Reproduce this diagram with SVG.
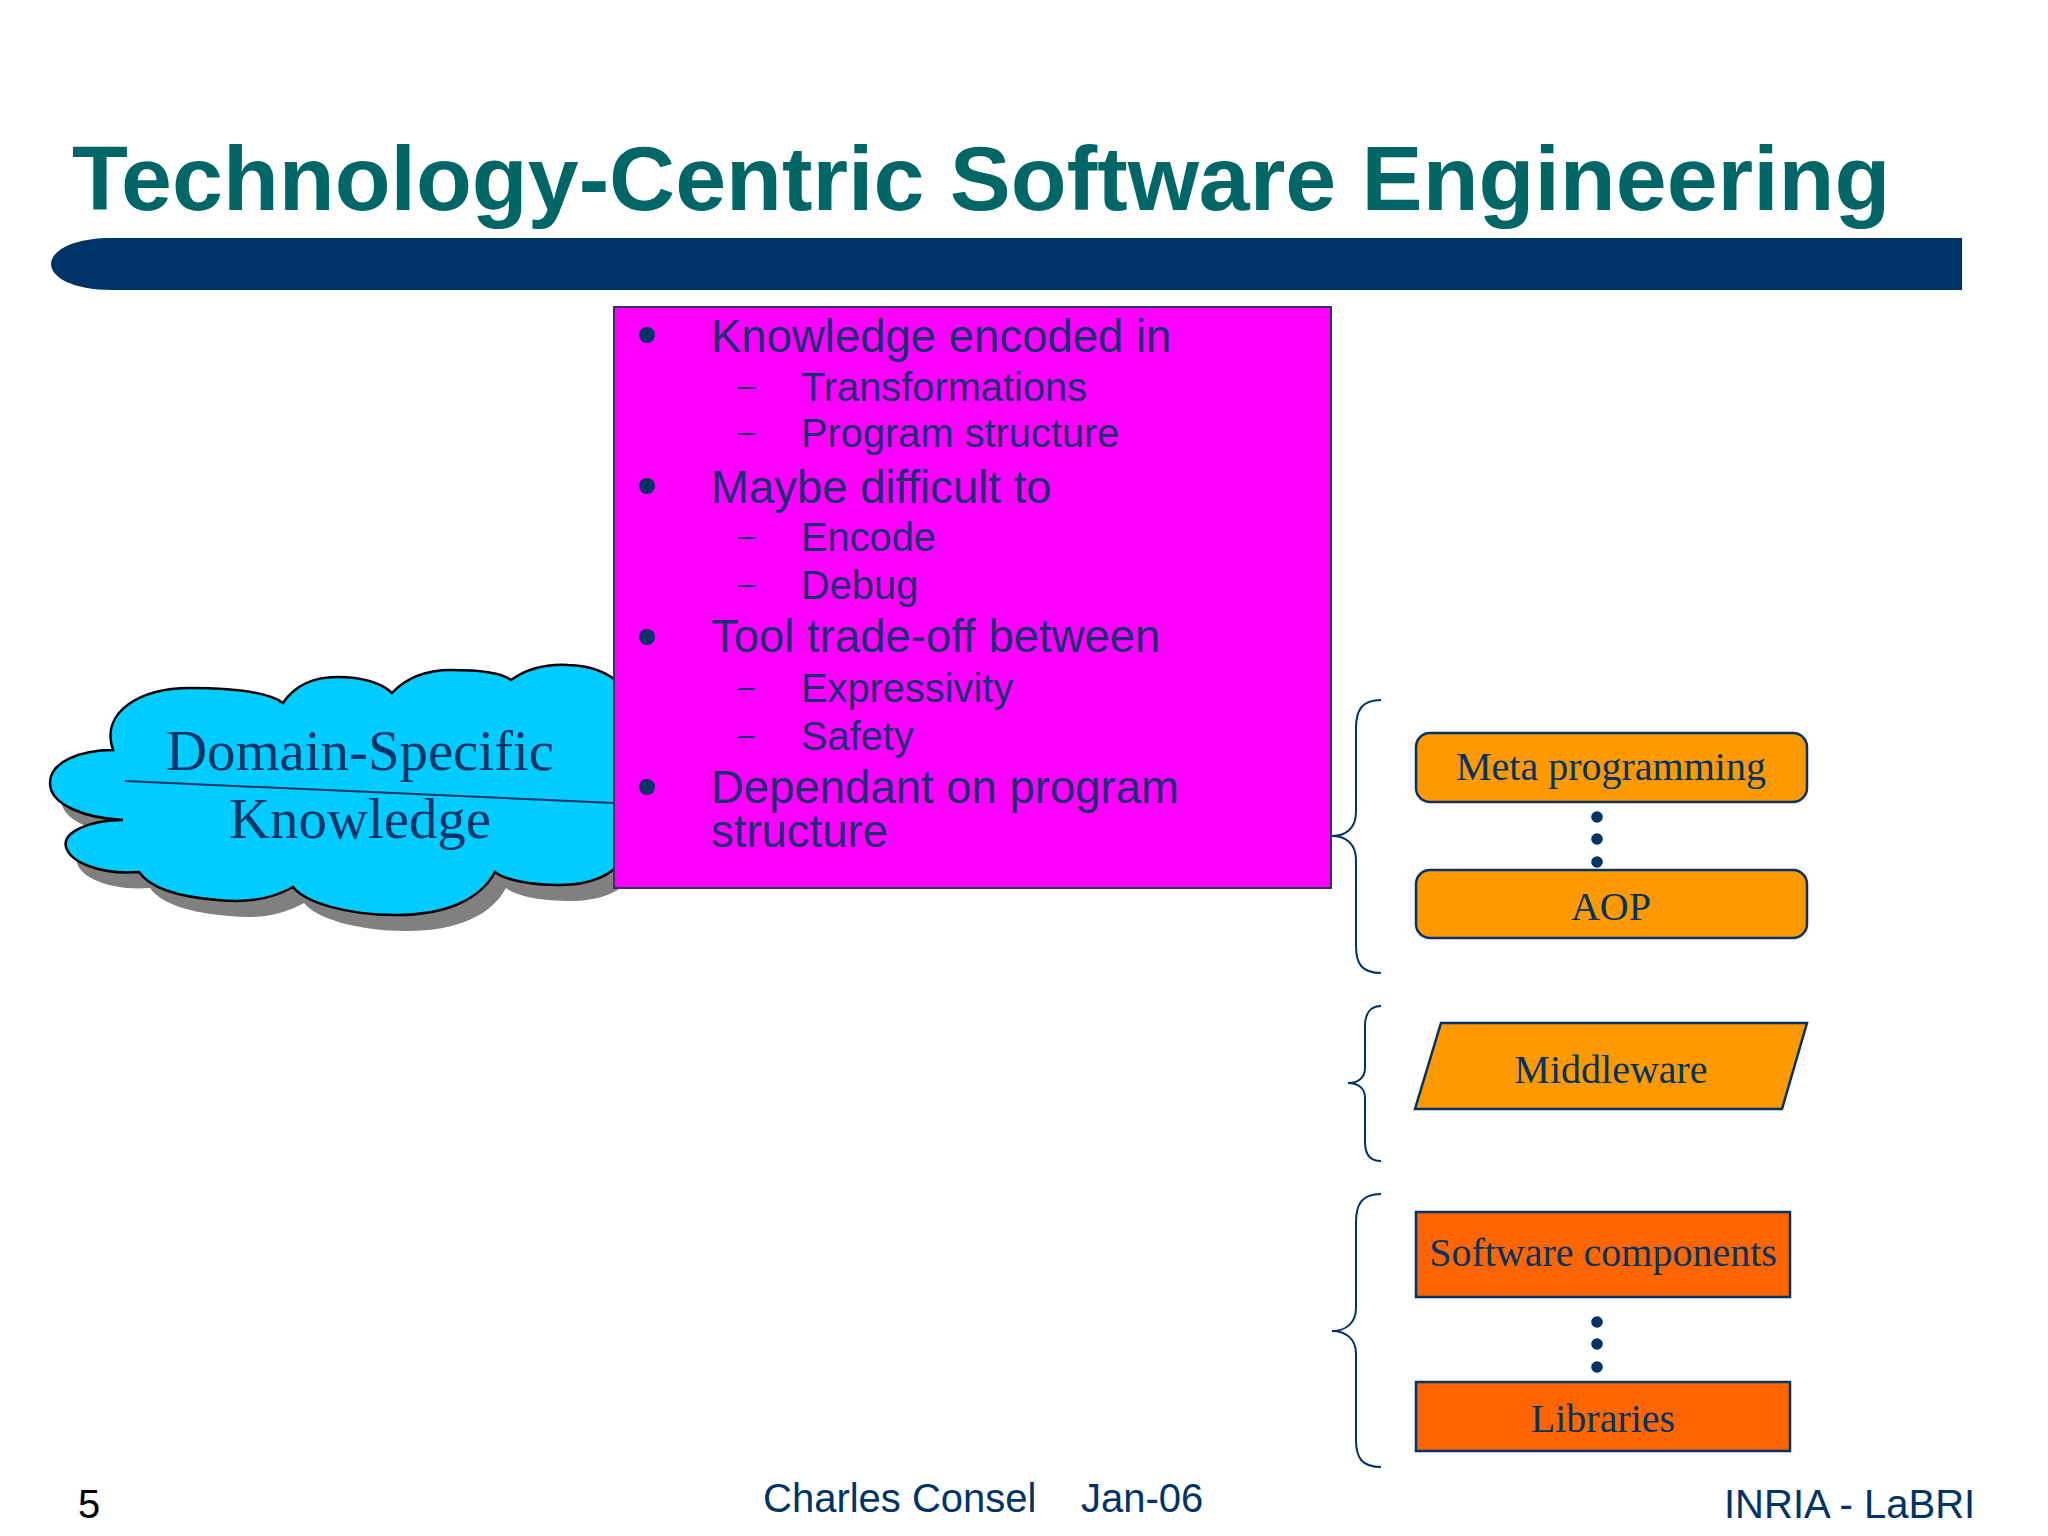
<svg xmlns="http://www.w3.org/2000/svg" width="2048" height="1536" viewBox="0 0 2048 1536">
<style>
.title{font-family:"Liberation Sans",Arial,sans-serif;font-weight:bold;font-size:91.5px;fill:#006666}
.main{font-family:"Liberation Sans",Arial,sans-serif;font-size:45.5px;fill:#1c2f70}
.sub{font-family:"Liberation Sans",Arial,sans-serif;font-size:39.8px;fill:#1c2f70}
.dash{font-family:"Liberation Sans",Arial,sans-serif;font-size:30px;fill:#1c2f70}
.foot{font-family:"Liberation Sans",Arial,sans-serif;font-size:40px;fill:#003366}
.serif{font-family:"Liberation Serif","Times New Roman",serif;font-size:40px;fill:#003366;text-anchor:middle}
.cloudtxt{font-family:"Liberation Serif","Times New Roman",serif;font-size:56.8px;fill:#003366;text-anchor:middle}
.brace{fill:none;stroke:#003366;stroke-width:2}
.obox{fill:#FF9900;stroke:#003366;stroke-width:2.5}
.rbox{fill:#FF6600;stroke:#003366;stroke-width:2.5}
.dot{fill:#003366}
</style>
<defs>
<path id="cloudShape" d="M113,750 C100,712 140,688 190,688 C235,688 268,692 283,703 C295,685 315,677 337,677 C362,677 382,683 392,693 C408,676 430,670 451,670 C480,670 502,673 511,680 C528,668 548,664 568,665 C610,666 640,690 645,740 C650,790 645,840 625,858 C610,878 585,885 560,885 C530,885 505,880 495,872 C480,900 445,915 396,915 C345,915 305,902 293,887 C270,900 245,903 218,900 C180,897 150,888 139,872 C100,875 70,862 66,847 C62,832 90,820 123,820 C85,818 50,805 50,783 C50,762 80,750 113,750 Z"/>
</defs>
<rect x="0" y="0" width="2048" height="1536" fill="#ffffff"/>

<g id="title">
<text class="title" x="72" y="210">Technology-Centric Software Engineering</text>
<path d="M112,238 L1962,238 L1962,290 L112,290 C72,290 51,277 51,264 C51,251 72,238 112,238 Z" fill="#003366"/>
</g>

<g id="cloud">
<use href="#cloudShape" transform="translate(11,16)" fill="#808080"/>
<use href="#cloudShape" fill="#00CCFF" stroke="#000000" stroke-width="2.5"/>
<text class="cloudtxt" x="360" y="770">Domain-Specific</text>
<text class="cloudtxt" x="360" y="838">Knowledge</text>
</g>

<g id="connectors">
<line x1="125" y1="781" x2="614" y2="803" stroke="#003366" stroke-width="2"/>
</g>

<g id="bullets">
<rect x="614" y="307" width="717" height="581" fill="#FF00FF" stroke="#333366" stroke-width="2"/>
<circle class="dot" cx="647" cy="335" r="8"/>
<circle class="dot" cx="647" cy="486" r="8"/>
<circle class="dot" cx="647" cy="637" r="8"/>
<circle class="dot" cx="647" cy="787" r="8"/>
<text class="main" x="711" y="352">Knowledge encoded in</text>
<text class="dash" x="738" y="396">–</text>
<text class="sub" x="801" y="401">Transformations</text>
<text class="dash" x="738" y="442">–</text>
<text class="sub" x="801" y="447">Program structure</text>
<text class="main" x="711" y="503">Maybe difficult to</text>
<text class="dash" x="738" y="546">–</text>
<text class="sub" x="801" y="551">Encode</text>
<text class="dash" x="738" y="594">–</text>
<text class="sub" x="801" y="599">Debug</text>
<text class="main" x="711" y="652">Tool trade-off between</text>
<text class="dash" x="738" y="697">–</text>
<text class="sub" x="801" y="702">Expressivity</text>
<text class="dash" x="738" y="745">–</text>
<text class="sub" x="801" y="750">Safety</text>
<text class="main" x="711" y="803">Dependant on program</text>
<text class="main" x="711" y="847">structure</text>
</g>

<g id="brace1">
<path class="brace" d="M1381,700 C1362,700 1356,710 1356,728 L1356,812 C1356,828 1346,836 1332,836 C1346,836 1356,844 1356,860 L1356,946 C1356,964 1362,973 1381,973"/>
</g>
<g id="meta">
<rect class="obox" x="1416" y="733" width="391" height="69" rx="14"/>
<text class="serif" x="1611" y="780">Meta programming</text>
</g>
<g id="dots1">
<circle class="dot" cx="1597" cy="817" r="5.8"/>
<circle class="dot" cx="1597" cy="839" r="5.8"/>
<circle class="dot" cx="1597" cy="862" r="5.8"/>
</g>
<g id="aop">
<rect class="obox" x="1416" y="870" width="391" height="68" rx="14"/>
<text class="serif" x="1611" y="920">AOP</text>
</g>

<g id="brace2">
<path class="brace" d="M1381,1006 C1370,1006 1365,1014 1365,1026 L1365,1068 C1365,1078 1358,1083 1348,1083 C1358,1083 1365,1088 1365,1098 L1365,1142 C1365,1154 1370,1161 1381,1161"/>
</g>
<g id="middleware">
<polygon class="obox" points="1441,1023 1807,1023 1782,1109 1415,1109"/>
<text class="serif" x="1611" y="1083">Middleware</text>
</g>

<g id="brace3">
<path class="brace" d="M1381,1194 C1362,1194 1356,1204 1356,1222 L1356,1308 C1356,1323 1346,1331 1332,1331 C1346,1331 1356,1339 1356,1354 L1356,1440 C1356,1458 1362,1467 1381,1467"/>
</g>
<g id="swcomp">
<rect class="rbox" x="1416" y="1212" width="374" height="85"/>
<text class="serif" x="1603" y="1266">Software components</text>
</g>
<g id="dots2">
<circle class="dot" cx="1597" cy="1322" r="5.8"/>
<circle class="dot" cx="1597" cy="1344" r="5.8"/>
<circle class="dot" cx="1597" cy="1367" r="5.8"/>
</g>
<g id="libraries">
<rect class="rbox" x="1416" y="1382" width="374" height="69"/>
<text class="serif" x="1603" y="1432">Libraries</text>
</g>

<g id="footer">
<text class="foot" x="78" y="1518" style="fill:#000000">5</text>
<text class="foot" x="763" y="1512">Charles Consel</text>
<text class="foot" x="1081" y="1512">Jan-06</text>
<text class="foot" x="1724" y="1518">INRIA - LaBRI</text>
</g>
</svg>
